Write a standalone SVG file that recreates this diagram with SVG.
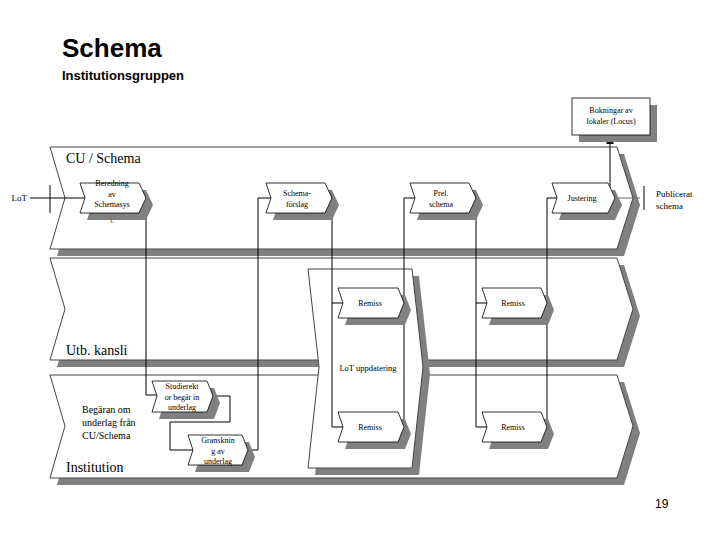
<svg xmlns="http://www.w3.org/2000/svg" width="720" height="540" viewBox="0 0 720 540">
<style>
.sh{fill:#808080}
.lane{fill:#fff;stroke:#444;stroke-width:1}
.box{fill:#fff;stroke:#000;stroke-width:0.8}
.t{font-family:"Liberation Serif",serif;fill:#000}
.s{font-size:8px}
.c{fill:none;stroke:#000;stroke-width:1}
</style>
<defs>
<marker id="ah" markerWidth="8" markerHeight="8" refX="4" refY="4" orient="auto" markerUnits="userSpaceOnUse"><path d="M0,0 L8,4 L0,8 z" fill="#000"/></marker>
</defs>
<text x="62" y="57" font-family="Liberation Sans,sans-serif" font-weight="bold" font-size="26">Schema</text>
<text x="62" y="80" font-family="Liberation Sans,sans-serif" font-weight="bold" font-size="13">Institutionsgruppen</text>
<g id="lane-cu">
<path class="sh" d="M57,154 L624,154 L640,205 L624,256 L57,256 L72,205 z"/>
<path class="lane" d="M50,147 L617,147 L633,198 L617,249 L50,249 L65,198 z"/>
<text class="t" x="66" y="163" font-size="14">CU / Schema</text>
</g>
<g id="lane-utb">
<path class="sh" d="M57,265 L624,265 L640,316 L624,367 L57,367 L72,316 z"/>
<path class="lane" d="M50,258 L617,258 L633,309 L617,360 L50,360 L65,309 z"/>
<text class="t" x="66" y="355" font-size="14">Utb. kansli</text>
</g>
<g id="lane-inst">
<path class="sh" d="M57,382 L624,382 L640,433 L624,485 L57,485 L72,433 z"/>
<path class="lane" d="M50,375 L617,375 L633,426 L617,478 L50,478 L65,426 z"/>
<text class="t" x="66" y="472" font-size="14">Institution</text>
<text class="t" x="82" y="413" font-size="10">Begäran om</text>
<text class="t" x="82" y="426" font-size="10">underlag från</text>
<text class="t" x="82" y="439" font-size="10">CU/Schema</text>
</g>
<g id="lot-uppdatering">
<path class="sh" d="M315,276 L419,276 L430,374 L419,475 L315,475 L326,374 z"/>
<path class="lane" d="M308,269 L412,269 L423,367 L412,468 L308,468 L319,367 z"/>
<text class="t" x="368" y="371" font-size="8.5" text-anchor="middle">LoT uppdatering</text>
</g>
<g id="connectors">
<path class="c" d="M30,198 H85 M50,185 V213"/>
<path class="c" d="M146,198 V395 H157"/>
<path class="c" d="M213,396 H230 V422 H170 V450 H193"/>
<path class="c" d="M248,450 H258 V198 H271"/>
<path class="c" d="M332,198 V427 H343 M332,303 H343"/>
<path class="c" d="M404,303 V198 H415 M404,427 V303"/>
<path class="c" d="M476,198 V427 H487 M476,303 H487"/>
<path class="c" d="M547,303 V198 H557 M547,427 V303"/>
<path d="M615,198 H640" stroke="#666" stroke-width="1"/>
<path d="M644,186 V210" stroke="#000" stroke-width="1"/>
<path class="c" d="M610,198 V140" marker-end="url(#ah)"/>
</g>
<g id="n-beredning">
<path class="sh" d="M87,190 L146,190 L153,205 L146,220 L87,220 L92,205 z"/>
<path class="box" d="M80,183 L139,183 L146,198 L139,213 L80,213 L85,198 z"/>
<text class="t s" x="112" y="186" text-anchor="middle">Beredning</text>
<text class="t s" x="112" y="197" text-anchor="middle">av</text>
<text class="t s" x="112" y="207" text-anchor="middle">Schemasys</text>
<text class="t" x="112" y="223" font-size="6" text-anchor="middle">t.</text>
</g>
<g id="n-schemaforslag">
<path class="sh" d="M273,190 L332,190 L339,205 L332,220 L273,220 L278,205 z"/>
<path class="box" d="M266,183 L325,183 L332,198 L325,213 L266,213 L271,198 z"/>
<text class="t s" x="297" y="196" text-anchor="middle">Schema-</text>
<text class="t s" x="297" y="207" text-anchor="middle">förslag</text>
</g>
<g id="n-prel">
<path class="sh" d="M417,190 L476,190 L483,205 L476,220 L417,220 L422,205 z"/>
<path class="box" d="M410,183 L469,183 L476,198 L469,213 L410,213 L415,198 z"/>
<text class="t s" x="441" y="196" text-anchor="middle">Prel.</text>
<text class="t s" x="441" y="207" text-anchor="middle">schema</text>
</g>
<g id="n-justering">
<path class="sh" d="M559,190 L615,190 L622,205 L615,220 L559,220 L564,205 z"/>
<path class="box" d="M552,183 L608,183 L615,198 L608,213 L552,213 L557,198 z"/>
<text class="t s" x="582" y="201" text-anchor="middle">Justering</text>
</g>
<g id="n-remiss1">
<path class="sh" d="M345,295 L405,295 L411,310 L405,325 L345,325 L350,310 z"/>
<path class="box" d="M338,288 L398,288 L404,303 L398,318 L338,318 L343,303 z"/>
<text class="t s" x="370" y="306" text-anchor="middle">Remiss</text>
</g>
<g id="n-remiss2">
<path class="sh" d="M345,419 L405,419 L411,434 L405,449 L345,449 L350,434 z"/>
<path class="box" d="M338,412 L398,412 L404,427 L398,442 L338,442 L343,427 z"/>
<text class="t s" x="370" y="430" text-anchor="middle">Remiss</text>
</g>
<g id="n-remiss3">
<path class="sh" d="M489,295 L548,295 L554,310 L548,325 L489,325 L494,310 z"/>
<path class="box" d="M482,288 L541,288 L547,303 L541,318 L482,318 L487,303 z"/>
<text class="t s" x="513" y="306" text-anchor="middle">Remiss</text>
</g>
<g id="n-remiss4">
<path class="sh" d="M489,419 L548,419 L554,434 L548,449 L489,449 L494,434 z"/>
<path class="box" d="M482,412 L541,412 L547,427 L541,442 L482,442 L487,427 z"/>
<text class="t s" x="513" y="430" text-anchor="middle">Remiss</text>
</g>
<g id="n-studierektor">
<path class="sh" d="M159,388 L214,388 L220,403 L214,419 L159,419 L164,403 z"/>
<path class="box" d="M152,381 L207,381 L213,396 L207,412 L152,412 L157,396 z"/>
<text class="t s" x="182" y="389" text-anchor="middle">Studierekt</text>
<text class="t s" x="182" y="400" text-anchor="middle">or begär in</text>
<text class="t s" x="182" y="410" text-anchor="middle">underlag</text>
</g>
<g id="n-granskning">
<path class="sh" d="M195,442 L249,442 L255,457 L249,472 L195,472 L200,457 z"/>
<path class="box" d="M188,435 L242,435 L248,450 L242,465 L188,465 L193,450 z"/>
<text class="t s" x="218" y="443" text-anchor="middle">Gransknin</text>
<text class="t s" x="218" y="454" text-anchor="middle">g av</text>
<text class="t s" x="218" y="464" text-anchor="middle">underlag</text>
</g>
<g id="n-bokningar">
<rect class="sh" x="579" y="105" width="78" height="37"/>
<rect class="box" x="572" y="98" width="78" height="37"/>
<text class="t s" x="611" y="113" text-anchor="middle">Bokningar av</text>
<text class="t s" x="611" y="124" text-anchor="middle">lokaler (Locus)</text>
</g>
<text class="t" x="27" y="201" font-size="9" text-anchor="end">LoT</text>
<text class="t" x="656" y="197" font-size="9">Publicerat</text>
<text class="t" x="656" y="209" font-size="9">schema</text>
<text x="655" y="508" font-family="Liberation Sans,sans-serif" font-size="12">19</text>
</svg>
